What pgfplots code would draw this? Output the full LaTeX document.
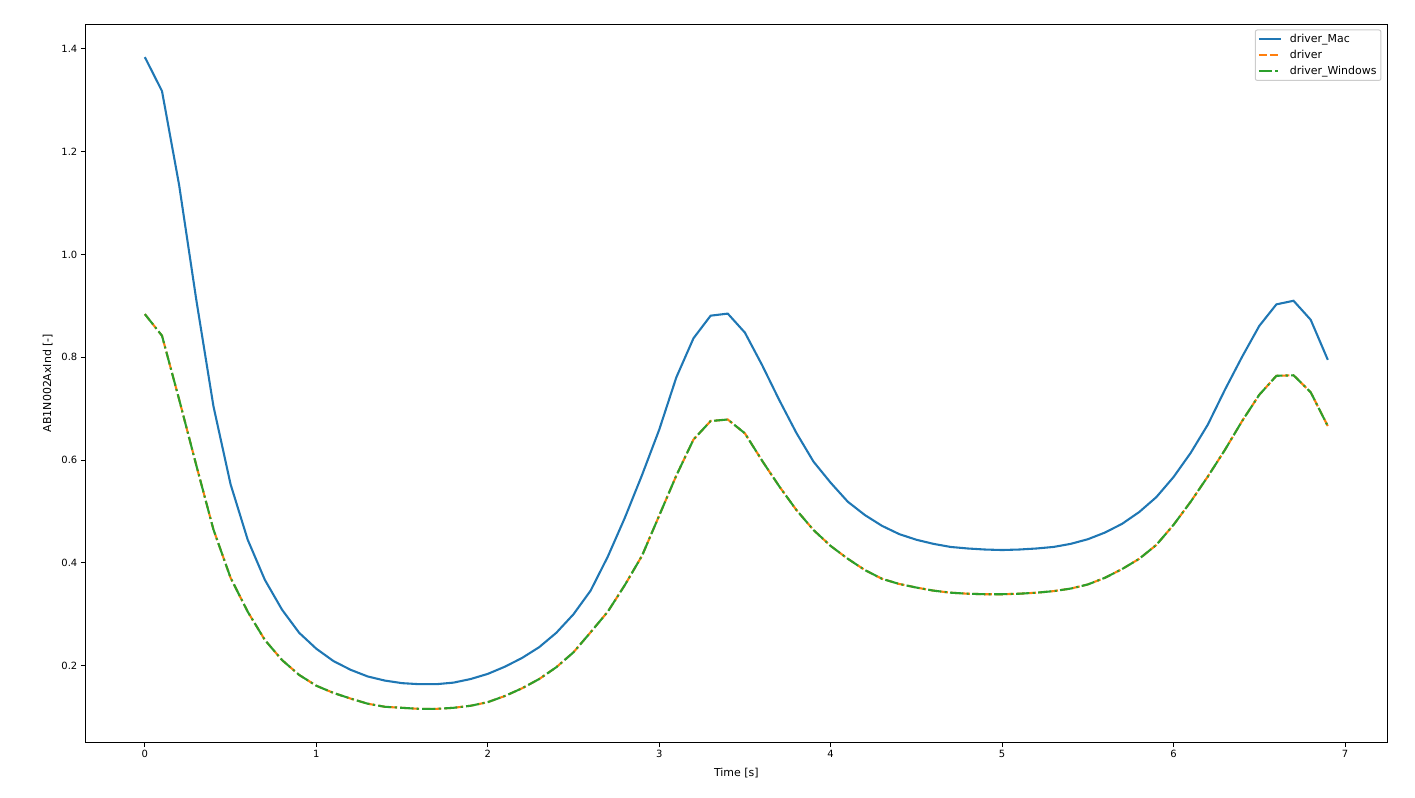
\documentclass[border=0pt]{standalone}
\usepackage{fontspec}
\setmainfont{DejaVu Sans}
\usepackage{pgfplots}
\pgfplotsset{compat=1.18}
\definecolor{mplblue}{HTML}{1F77B4}
\definecolor{mplorange}{HTML}{FF7F0E}
\definecolor{mplgreen}{HTML}{2CA02C}
\definecolor{legframe}{HTML}{CCCCCC}
\begin{document}
\begin{tikzpicture}
\useasboundingbox (0,0) rectangle (1415bp,798bp);
\begin{axis}[
  at={(85.7bp,56bp)}, anchor=south west,
  scale only axis, width=1301.3bp, height=718bp,
  xmin=-0.345, xmax=7.245, ymin=0.0515, ymax=1.4485,
  xtick={0,1,2,3,4,5,6,7},
  ytick={0.2,0.4,0.6,0.8,1.0,1.2,1.4},
  yticklabel style={/pgf/number format/fixed,/pgf/number format/fixed zerofill,/pgf/number format/precision=1},
  /pgf/number format/assume math mode=true,
  tick align=outside, major tick length=4.9bp,
  tick style={line width=0.9bp, black},
  xtick pos=bottom, ytick pos=left,
  axis line style={line width=0.9bp},
  ticklabel style={font=\fontsize{10}{12}\selectfont},
  xlabel={Time [s]}, ylabel={AB1N002AxInd [-]},
  label style={font=\fontsize{11}{13}\selectfont},
  xlabel style={yshift=-3bp},
  ylabel style={yshift=2bp},
  legend cell align=left,
  legend style={at={(1,1)}, anchor=north east, xshift=-5.5bp, yshift=-5.5bp,
    draw=legframe, line width=1bp, rounded corners=2bp,
    font=\fontsize{11}{13}\selectfont, row sep=2bp, inner sep=2.5bp},
  legend image code/.code={\draw[#1] (0bp,0bp) -- (22bp,0bp); \path (28bp,0bp);},
]
\addplot[mplblue, line width=2.08bp] coordinates {
(0.0,1.384) (0.1,1.318) (0.2,1.135) (0.3,0.912) (0.4,0.705) (0.5,0.553)
(0.6,0.445) (0.7,0.367) (0.8,0.309) (0.9,0.264) (1.0,0.233) (1.1,0.209)
(1.2,0.192) (1.3,0.179) (1.4,0.171) (1.5,0.166) (1.6,0.164) (1.7,0.164)
(1.8,0.167) (1.9,0.174) (2.0,0.184) (2.1,0.198) (2.2,0.215) (2.3,0.236)
(2.4,0.264) (2.5,0.300) (2.6,0.346) (2.7,0.412) (2.8,0.488) (2.9,0.571)
(3.0,0.659) (3.1,0.761) (3.2,0.837) (3.3,0.881) (3.4,0.885) (3.5,0.848)
(3.6,0.785) (3.7,0.717) (3.8,0.653) (3.9,0.597) (4.0,0.556) (4.1,0.519)
(4.2,0.493) (4.3,0.472) (4.4,0.456) (4.5,0.445) (4.6,0.437) (4.7,0.431)
(4.8,0.428) (4.9,0.426) (5.0,0.425) (5.1,0.426) (5.2,0.428) (5.3,0.431)
(5.4,0.437) (5.5,0.446) (5.6,0.459) (5.7,0.476) (5.8,0.499) (5.9,0.528)
(6.0,0.567) (6.1,0.614) (6.2,0.669) (6.3,0.737) (6.4,0.801) (6.5,0.861)
(6.6,0.903) (6.7,0.910) (6.8,0.873) (6.9,0.795)
};
\addlegendentry{driver\_Mac}
\addplot[mplorange, line width=2.08bp, dash pattern=on 7.7bp off 3.33bp] coordinates {
(0.0,0.884) (0.1,0.842) (0.2,0.718) (0.3,0.590) (0.4,0.465) (0.5,0.371)
(0.6,0.305) (0.7,0.250) (0.8,0.211) (0.9,0.182) (1.0,0.161) (1.1,0.147)
(1.2,0.136) (1.3,0.126) (1.4,0.120) (1.5,0.118) (1.6,0.116) (1.7,0.116)
(1.8,0.118) (1.9,0.122) (2.0,0.129) (2.1,0.141) (2.2,0.156) (2.3,0.174)
(2.4,0.197) (2.5,0.226) (2.6,0.265) (2.7,0.305) (2.8,0.357) (2.9,0.414)
(3.0,0.492) (3.1,0.570) (3.2,0.640) (3.3,0.676) (3.4,0.679) (3.5,0.652)
(3.6,0.599) (3.7,0.549) (3.8,0.503) (3.9,0.464) (4.0,0.433) (4.1,0.408)
(4.2,0.386) (4.3,0.369) (4.4,0.359) (4.5,0.352) (4.6,0.346) (4.7,0.342)
(4.8,0.340) (4.9,0.339) (5.0,0.339) (5.1,0.340) (5.2,0.342) (5.3,0.345)
(5.4,0.350) (5.5,0.358) (5.6,0.371) (5.7,0.388) (5.8,0.408) (5.9,0.435)
(6.0,0.474) (6.1,0.519) (6.2,0.568) (6.3,0.620) (6.4,0.676) (6.5,0.727)
(6.6,0.764) (6.7,0.765) (6.8,0.732) (6.9,0.666)
};
\addlegendentry{driver}
\addplot[mplgreen, line width=2.08bp, dash pattern=on 13.3bp off 3.33bp on 2.08bp off 3.33bp] coordinates {
(0.0,0.884) (0.1,0.842) (0.2,0.718) (0.3,0.590) (0.4,0.465) (0.5,0.371)
(0.6,0.305) (0.7,0.250) (0.8,0.211) (0.9,0.182) (1.0,0.161) (1.1,0.147)
(1.2,0.136) (1.3,0.126) (1.4,0.120) (1.5,0.118) (1.6,0.116) (1.7,0.116)
(1.8,0.118) (1.9,0.122) (2.0,0.129) (2.1,0.141) (2.2,0.156) (2.3,0.174)
(2.4,0.197) (2.5,0.226) (2.6,0.265) (2.7,0.305) (2.8,0.357) (2.9,0.414)
(3.0,0.492) (3.1,0.570) (3.2,0.640) (3.3,0.676) (3.4,0.679) (3.5,0.652)
(3.6,0.599) (3.7,0.549) (3.8,0.503) (3.9,0.464) (4.0,0.433) (4.1,0.408)
(4.2,0.386) (4.3,0.369) (4.4,0.359) (4.5,0.352) (4.6,0.346) (4.7,0.342)
(4.8,0.340) (4.9,0.339) (5.0,0.339) (5.1,0.340) (5.2,0.342) (5.3,0.345)
(5.4,0.350) (5.5,0.358) (5.6,0.371) (5.7,0.388) (5.8,0.408) (5.9,0.435)
(6.0,0.474) (6.1,0.519) (6.2,0.568) (6.3,0.620) (6.4,0.676) (6.5,0.727)
(6.6,0.764) (6.7,0.765) (6.8,0.732) (6.9,0.666)
};
\addlegendentry{driver\_Windows}
\end{axis}
\end{tikzpicture}
\end{document}
